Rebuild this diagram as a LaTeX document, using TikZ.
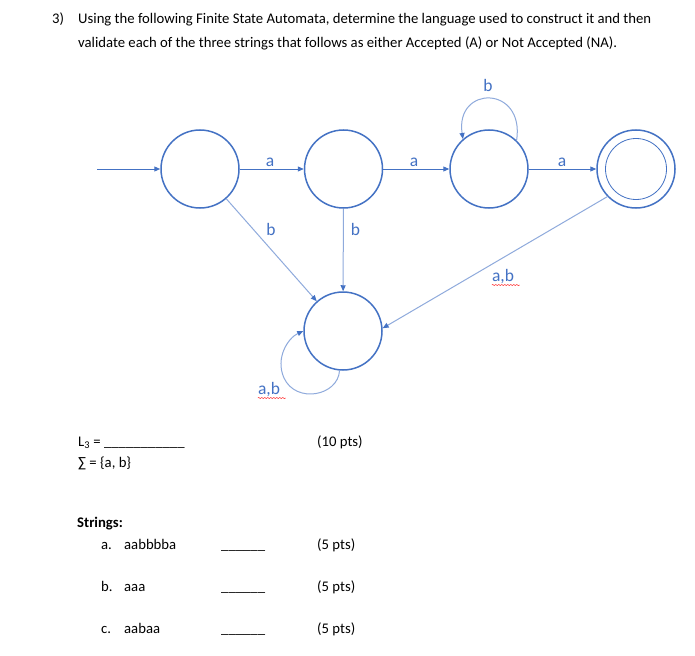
\documentclass[tikz,border=0pt]{standalone}
\usepackage{fontspec}
\setmainfont{Carlito}
\usetikzlibrary{arrows.meta,decorations.pathmorphing}
\definecolor{stblue}{HTML}{4472C4}
\definecolor{lnblue}{HTML}{8FAADC}
\tikzset{
  state/.style={circle,draw=stblue,line width=1.5pt,minimum size=78pt,inner sep=0pt},
  edge/.style={draw=stblue,line width=1pt,-{Triangle[length=6pt,width=5pt]}},
  ledge/.style={draw=lnblue,line width=1pt,arrows={-{Triangle[length=6pt,width=5pt,color=stblue]}}},
  lbl/.style={text=stblue,font=\fontsize{17.5}{20}\selectfont,anchor=base,inner sep=0pt},
  txt/.style={font=\fontsize{14.7}{17}\selectfont,anchor=base west,inner sep=0pt},
  squig/.style={draw=red!80,line width=0.5pt,decorate,decoration={snake,amplitude=0.6pt,segment length=3pt}}
}
\begin{document}
\begin{tikzpicture}[x=1pt,y=-1pt]
\useasboundingbox[fill=white] (0,0) rectangle (695,655);
% text
\node[txt] (n3) at (52,24) {3)};
\node[txt] (t1) at (78,24) {Using the following Finite State Automata, determine the language used to construct it and then};
\node[txt] (t2) at (78,48) {validate each of the three strings that follows as either Accepted (A) or Not Accepted (NA).};
% states
\node[state] (q1) at (200,169) {};
\node[state] (q2) at (343.5,169) {};
\node[state] (q3) at (489,169) {};
\node[state] (q5) at (636,169) {};
\node[circle,draw=stblue,line width=0.8pt,minimum size=61pt,inner sep=0pt] (q5i) at (636,169) {};
\node[state] (q4) at (343,331) {};
\coordinate (s) at (97,169);
% edges
\draw[edge] (s) -- (q1);
\draw[edge] (q1) -- (q2);
\draw[edge] (q2) -- (q3);
\draw[edge] (q3) -- (q5);
\draw[ledge] (q1) -- (q4);
\draw[ledge] (q2) -- (q4);
\draw[ledge] (q5.224) -- (q4.4);
\draw[ledge] (q3.46) .. controls (525,85) and (455,85) .. (q3.131);
\draw[ledge] (q4.-95) .. controls (338,396) and (296,404) .. (284,378) .. controls (275,358) and (288,338) .. (q4.180);
% labels
\node[lbl] (la1) at (270,167) {a};
\node[lbl] (la2) at (414,167) {a};
\node[lbl] (la3) at (562,167) {a};
\node[lbl] (lb3) at (488,92) {b};
\node[lbl] (lb1) at (271,235) {b};
\node[lbl] (lb2) at (355.5,235) {b};
\node[lbl] (lab5) at (503,281) {a,b};
\node[lbl] (lab4) at (269,394) {a,b};
\draw[squig] (lab5.base west) ++(0,4) -- ++(28,0);
\draw[squig] (lab4.base west) ++(0,4) -- ++(28,0);
% lower text
\node[txt] (l3) at (78,446) {L\textsubscript{3} = \_\_\_\_\_\_\_\_\_\_\_};
\node[txt] (p10) at (317,446) {(10 pts)};
\node[txt] (sig) at (78,467) {∑ = \{a, b\}};
\node[txt,font=\fontsize{14.7}{17}\selectfont\bfseries] (str) at (77,527) {Strings:};
\node[txt] (ia) at (101,549) {a.};
\node[txt] (sa) at (124,549) {aabbbba};
\node[txt] (ba) at (221,549) {\_\_\_\_\_\_};
\node[txt] (pa) at (317,549) {(5 pts)};
\node[txt] (ib) at (101,591) {b.};
\node[txt] (sb) at (124,591) {aaa};
\node[txt] (bb) at (221,591) {\_\_\_\_\_\_};
\node[txt] (pb) at (317,591) {(5 pts)};
\node[txt] (ic) at (101,633) {c.};
\node[txt] (sc) at (124,633) {aabaa};
\node[txt] (bc) at (221,633) {\_\_\_\_\_\_};
\node[txt] (pc) at (317,633) {(5 pts)};
\end{tikzpicture}
\end{document}
